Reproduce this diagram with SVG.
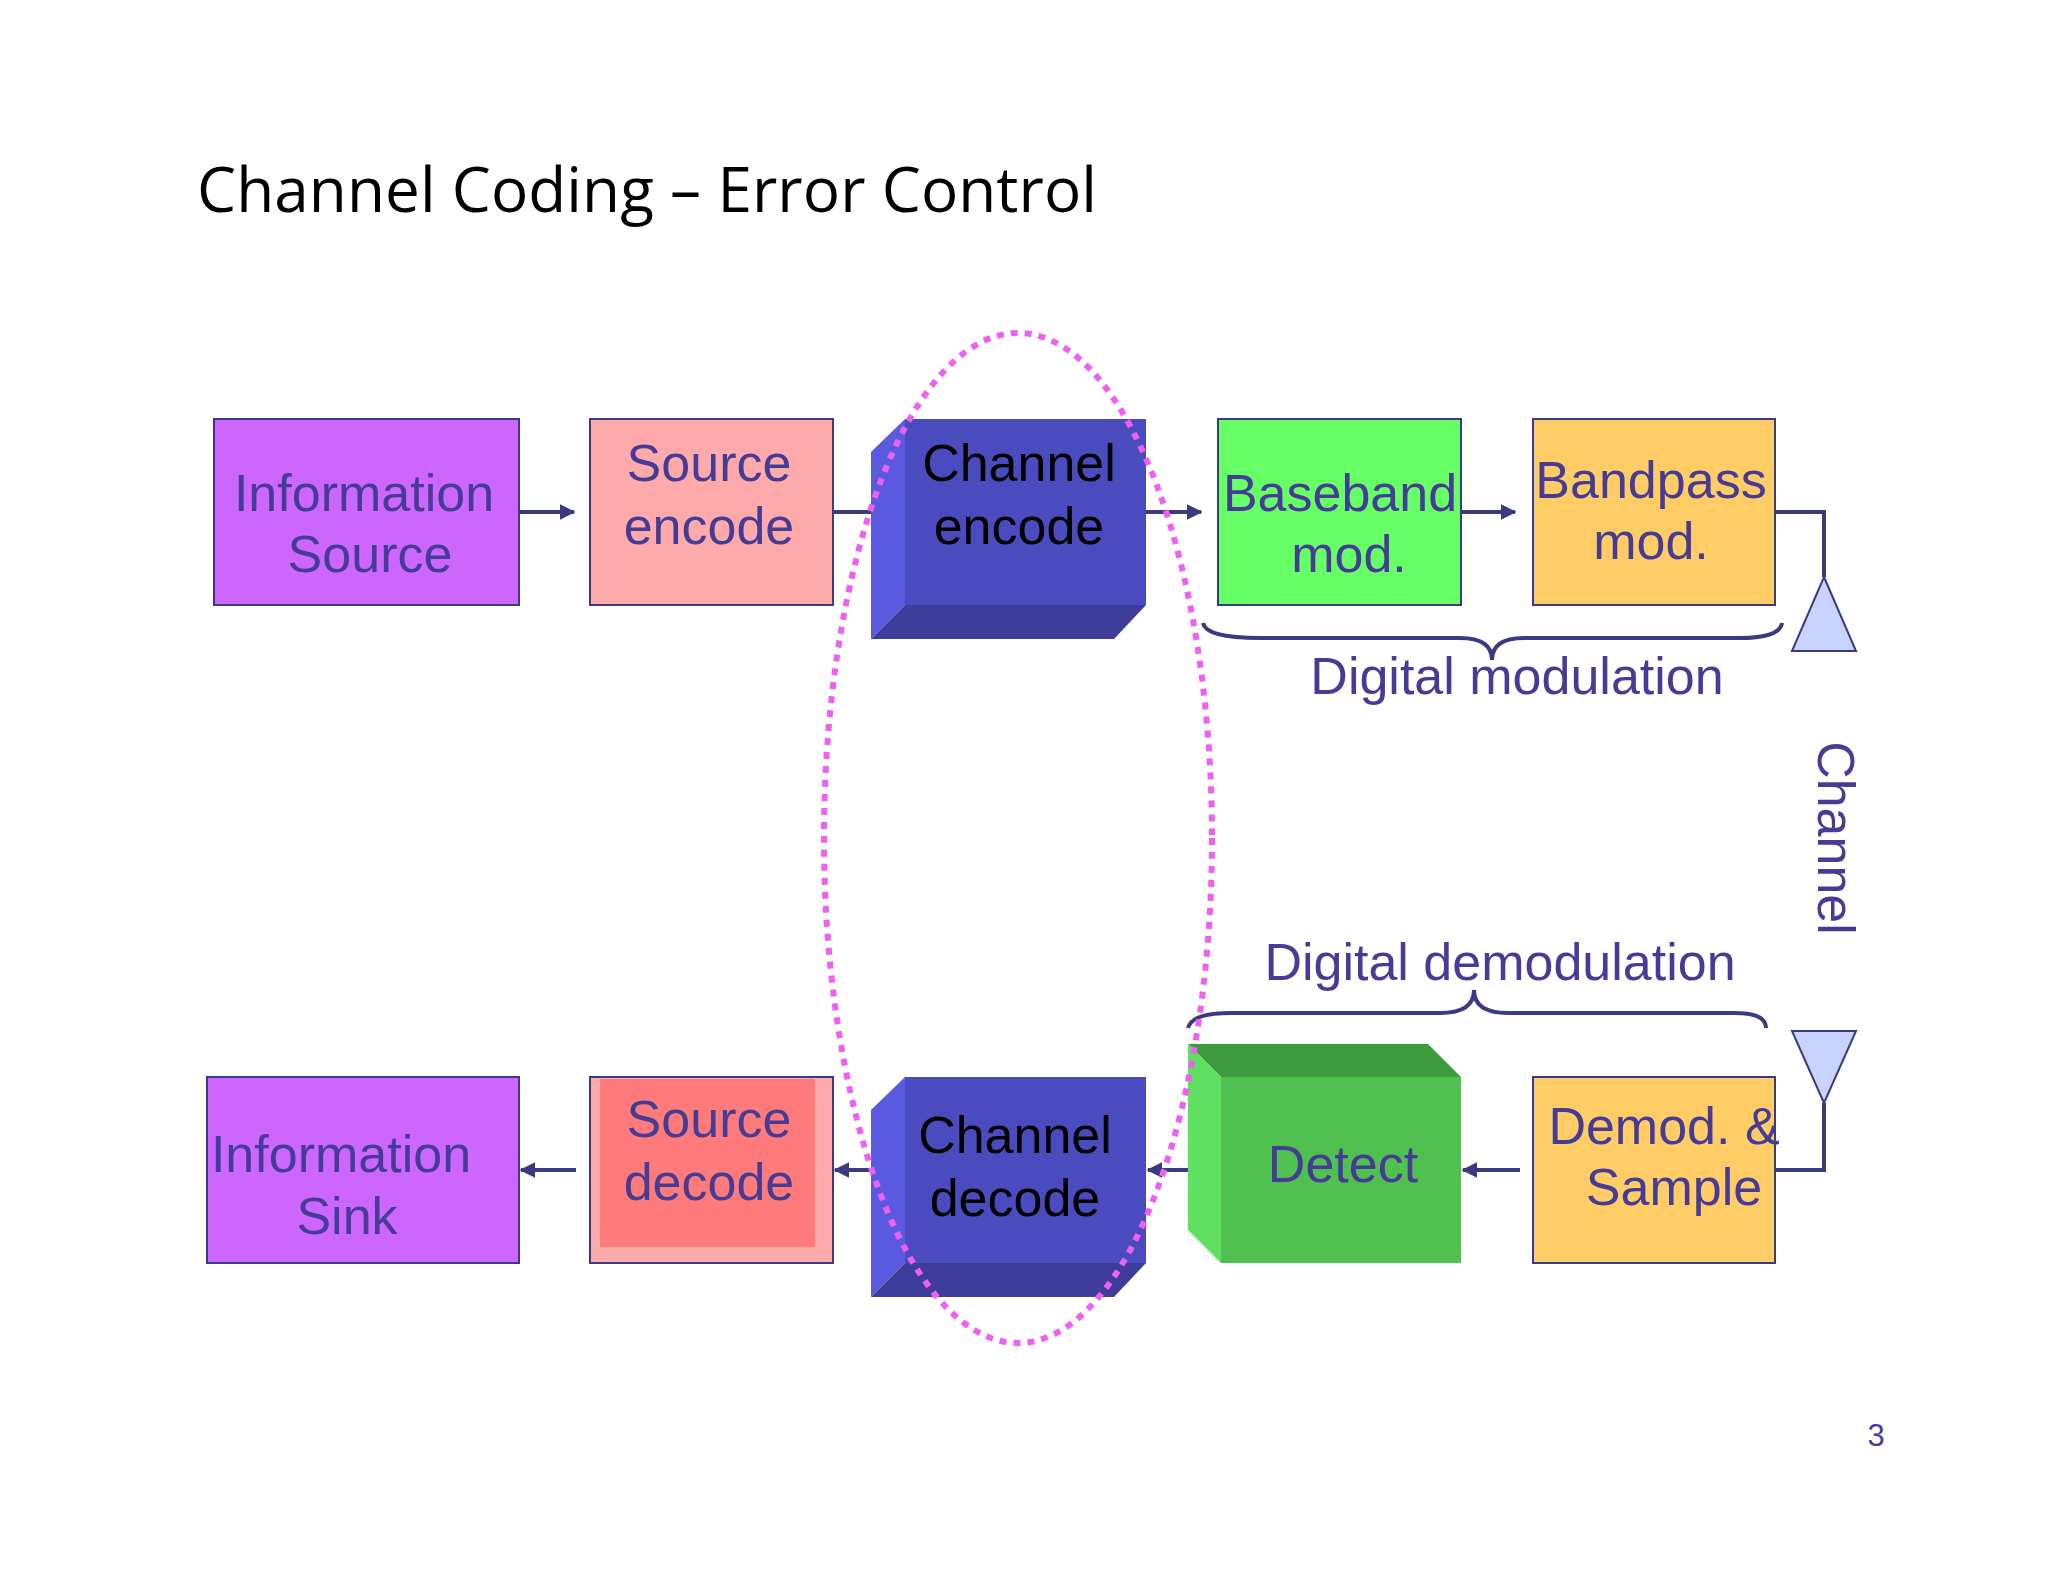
<svg xmlns="http://www.w3.org/2000/svg" width="2048" height="1582" viewBox="0 0 2048 1582">
<defs>
<style>
.t{font-family:"Liberation Sans",Arial,sans-serif;font-size:52px;fill:#463c96;text-anchor:middle}
.k{fill:#000}
.b{stroke:#3a3a8c;stroke-width:2}
.c{fill:none;stroke:#3a3a80;stroke-width:4}
</style>
<marker id="a" viewBox="0 0 10 10" refX="9" refY="5" markerWidth="4" markerHeight="4" orient="auto"><path d="M0,0L10,5L0,10z" fill="#3a3a80"/></marker>
</defs>
<rect width="2048" height="1582" fill="#fff"/>
<text x="197" y="212" font-family="Open Sans,Liberation Sans,sans-serif" font-size="62" fill="#000" textLength="900">Channel Coding – Error Control</text>
<g id="connectors" class="c">
<line x1="519" y1="512" x2="574" y2="512" marker-end="url(#a)"/>
<line x1="833" y1="512" x2="871" y2="512"/>
<line x1="1146" y1="512" x2="1201" y2="512" marker-end="url(#a)"/>
<line x1="1461" y1="512" x2="1515" y2="512" marker-end="url(#a)"/>
<polyline points="1775,512 1824,512 1824,577"/>
<polyline points="1824,1103 1824,1170 1775,1170"/>
<line x1="1520" y1="1170" x2="1463" y2="1170" marker-end="url(#a)"/>
<line x1="1203" y1="1170" x2="1148" y2="1170" marker-end="url(#a)"/>
<line x1="871" y1="1170" x2="835" y2="1170" marker-end="url(#a)"/>
<line x1="576" y1="1170" x2="521" y2="1170" marker-end="url(#a)"/>
<path d="M1203,623 Q1206,638 1260,638 L1460,638 Q1492,638 1492,660 Q1492,638 1524,638 L1740,638 Q1780,638 1782,623"/>
<path d="M1188,1028 Q1192,1013 1230,1013 L1440,1013 Q1474,1013 1474,990 Q1474,1013 1508,1013 L1735,1013 Q1766,1013 1766,1028"/>
</g>
<g id="info-source"><rect x="214" y="419" width="305" height="186" fill="#cc66ff" class="b"/><text class="t" x="364" y="511">Information</text><text class="t" x="370" y="572">Source</text></g>
<g id="source-encode"><rect x="590" y="419" width="243" height="186" fill="#ffaaaa" class="b"/><text class="t" x="709" y="481">Source</text><text class="t" x="709" y="544">encode</text></g>
<g id="channel-encode"><polygon points="871,452 905,419 905,605 871,639" fill="#5a5ae0"/><polygon points="871,639 905,605 1146,605 1114,639" fill="#3e3e9a"/><rect x="905" y="419" width="241" height="186" fill="#4b4bc0"/><text class="t k" x="1019" y="481">Channel</text><text class="t k" x="1019" y="544">encode</text></g>
<g id="baseband"><rect x="1218" y="419" width="243" height="186" fill="#66ff66" class="b"/><text class="t" x="1340" y="511">Baseband</text><text class="t" x="1349" y="572">mod.</text></g>
<g id="bandpass"><rect x="1533" y="419" width="242" height="186" fill="#ffcc66" class="b"/><text class="t" x="1651" y="498">Bandpass</text><text class="t" x="1651" y="559">mod.</text></g>
<g id="antenna-tx"><polygon points="1824,577 1856,651 1792,651" fill="#c8d4ff" stroke="#3a3a80" stroke-width="2"/></g>
<g id="antenna-rx"><polygon points="1792,1031 1856,1031 1824,1103" fill="#c8d4ff" stroke="#3a3a80" stroke-width="2"/></g>
<g id="labels">
<text class="t" x="1517" y="694" font-size="47">Digital modulation</text>
<text class="t" x="1500" y="980" font-size="47">Digital demodulation</text>
<text class="t" font-size="47" transform="translate(1818,838) rotate(90)">Channel</text>
<text x="1876" y="1446" font-family="Liberation Sans,sans-serif" font-size="31" fill="#463c96" text-anchor="middle">3</text>
</g>
<g id="info-sink"><rect x="207" y="1077" width="312" height="186" fill="#cc66ff" class="b"/><text class="t" x="341" y="1172">Information</text><text class="t" x="347" y="1234">Sink</text></g>
<g id="source-decode"><rect x="590" y="1077" width="243" height="186" fill="#ffaaaa" class="b"/><rect x="600" y="1079" width="215" height="168" fill="#ff7b7b"/><text class="t" x="709" y="1137">Source</text><text class="t" x="709" y="1200">decode</text></g>
<g id="channel-decode"><polygon points="871,1110 905,1077 905,1263 871,1297" fill="#5a5ae0"/><polygon points="871,1297 905,1263 1146,1263 1114,1297" fill="#3e3e9a"/><rect x="905" y="1077" width="241" height="186" fill="#4b4bc0"/><text class="t k" x="1015" y="1153">Channel</text><text class="t k" x="1015" y="1216">decode</text></g>
<g id="detect"><polygon points="1188,1044 1428,1044 1461,1077 1221,1077" fill="#3e9a3e"/><polygon points="1188,1044 1221,1077 1221,1263 1188,1230" fill="#60e060"/><rect x="1221" y="1077" width="240" height="186" fill="#50c050"/><text class="t" x="1343" y="1182">Detect</text></g>
<g id="demod"><rect x="1533" y="1077" width="242" height="186" fill="#ffcc66" class="b"/><text class="t" x="1664" y="1144">Demod. &amp;</text><text class="t" x="1674" y="1205">Sample</text></g>
<g id="ellipse"><ellipse cx="1018" cy="838" rx="194" ry="505" fill="none" stroke="#f060f0" stroke-width="6" stroke-dasharray="7,7"/></g>
</svg>
